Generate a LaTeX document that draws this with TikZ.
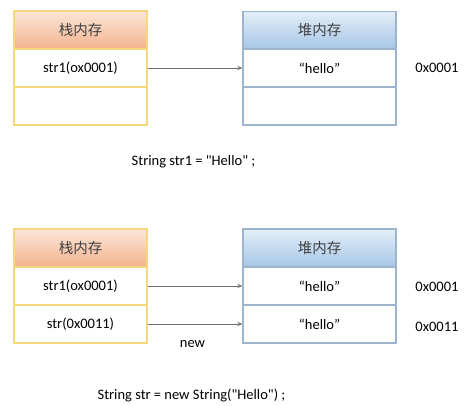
\documentclass[tikz,border=0pt]{standalone}
\usepackage{fontspec}
\setmainfont{Carlito}[Ligatures=TeXOff]
\newfontfamily\cjk{Noto Sans CJK SC}
\usetikzlibrary{arrows.meta}
\definecolor{stackborder}{HTML}{F5D77F}
\definecolor{stacktop}{HTML}{FCE6D8}
\definecolor{stackbot}{HTML}{F3B38E}
\definecolor{heapborder}{HTML}{9DB4CF}
\definecolor{heaptop}{HTML}{E3EEF9}
\definecolor{heapbot}{HTML}{A6C6E6}
\definecolor{arrgray}{HTML}{707070}
\tikzset{
  cell/.style={draw, line width=1.2pt, fill=white, minimum height=38pt, inner sep=0pt, font=\fontsize{14.5}{16}\selectfont},
  stackcell/.style={cell, draw=stackborder, minimum width=133pt},
  heapcell/.style={cell, draw=heapborder, minimum width=153pt},
  stackhead/.style={stackcell, top color=stacktop, bottom color=stackbot, font=\cjk\fontsize{14.5}{16}\selectfont, text=black!75},
  heaphead/.style={heapcell, top color=heaptop, bottom color=heapbot, font=\cjk\fontsize{14.5}{16}\selectfont, text=black!75},
  lbl/.style={inner sep=0pt, font=\fontsize{14.5}{16}\selectfont},
  arr/.style={draw=arrgray, line width=0.8pt, -{Stealth[length=5pt,width=4pt]}}
}
\begin{document}
\begin{tikzpicture}[x=1pt,y=-1pt]
\useasboundingbox (0,0) rectangle (474,405);
% top diagram
\node[stackhead] (s1h) at (80.5,30) {栈内存};
\node[stackcell] (s1a) at (80.5,68) {str1(ox0001)};
\node[stackcell] (s1b) at (80.5,106) {};
\node[heaphead] (h1h) at (319.5,30.5) {堆内存};
\node[heapcell] (h1a) at (319.5,68) {“hello”};
\node[heapcell] (h1b) at (319.5,106) {};
\node[lbl] (ad1) at (437,68) {0x0001};
\draw[arr] (s1a.east) -- (h1a.west);
\node[lbl] (code1) at (193.5,162) {String str1 = "Hello" ;};
% bottom diagram
\node[stackhead] (s2h) at (80.5,248) {栈内存};
\node[stackcell] (s2a) at (80.5,286) {str1(ox0001)};
\node[stackcell] (s2b) at (80.5,324) {str(0x0011)};
\node[heaphead] (h2h) at (319.5,248) {堆内存};
\node[heapcell] (h2a) at (319.5,286) {“hello”};
\node[heapcell] (h2b) at (319.5,324) {“hello”};
\node[lbl] (ad2) at (437,287) {0x0001};
\node[lbl] (ad3) at (437,327) {0x0011};
\draw[arr] (s2a.east) -- (h2a.west);
\draw[arr] (s2b.east) -- (h2b.west);
\node[lbl] (newlbl) at (192.5,344) {new};
\node[lbl] (code2) at (191.5,395) {String str = new String("Hello") ;};
\end{tikzpicture}
\end{document}
